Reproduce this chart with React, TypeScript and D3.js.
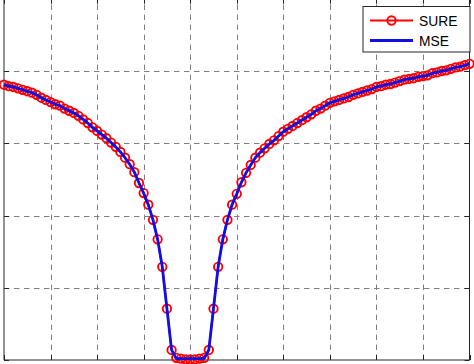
import React from "react";
import * as d3 from "d3";

const xValues: number[] = d3.range(0, 101).map((i) => i / 10);

const sureValues: number[] = [
  3.81, 3.79, 3.78, 3.76, 3.74, 3.72, 3.70, 3.67, 3.63, 3.60,
  3.57, 3.54, 3.52, 3.48, 3.45, 3.42, 3.38, 3.33, 3.28, 3.22,
  3.17, 3.12, 3.07, 3.01, 2.95, 2.88, 2.80, 2.71, 2.60, 2.45,
  2.31, 2.15, 1.94, 1.67, 1.29, 0.71, 0.14, 0.03, 0.02, 0.01,
  0.01, 0.01, 0.02, 0.03, 0.14, 0.71, 1.29, 1.67, 1.94, 2.15,
  2.30, 2.46, 2.59, 2.70, 2.80, 2.87, 2.93, 2.99, 3.04, 3.10,
  3.16, 3.20, 3.24, 3.28, 3.32, 3.36, 3.40, 3.45, 3.48, 3.52,
  3.56, 3.58, 3.60, 3.62, 3.64, 3.67, 3.69, 3.71, 3.73, 3.75,
  3.78, 3.79, 3.81, 3.82, 3.84, 3.86, 3.88, 3.89, 3.90, 3.92,
  3.93, 3.94, 3.97, 3.98, 4.00, 4.01, 4.03, 4.05, 4.06, 4.08,
  4.10,
];

const mseValues: number[] = [
  3.81, 3.79, 3.78, 3.76, 3.74, 3.72, 3.70, 3.67, 3.63, 3.60,
  3.57, 3.54, 3.52, 3.48, 3.45, 3.42, 3.38, 3.33, 3.28, 3.22,
  3.17, 3.12, 3.07, 3.01, 2.95, 2.88, 2.80, 2.71, 2.60, 2.45,
  2.31, 2.15, 1.94, 1.67, 1.29, 0.71, 0.14, 0.02, 0.02, 0.02,
  0.02, 0.02, 0.02, 0.02, 0.14, 0.71, 1.29, 1.67, 1.94, 2.15,
  2.30, 2.46, 2.59, 2.70, 2.80, 2.87, 2.93, 2.99, 3.04, 3.10,
  3.16, 3.20, 3.24, 3.28, 3.32, 3.36, 3.40, 3.45, 3.48, 3.52,
  3.56, 3.58, 3.60, 3.62, 3.64, 3.67, 3.69, 3.71, 3.73, 3.75,
  3.78, 3.79, 3.81, 3.82, 3.84, 3.86, 3.88, 3.89, 3.90, 3.92,
  3.93, 3.94, 3.97, 3.98, 4.00, 4.01, 4.03, 4.05, 4.06, 4.08,
  4.10,
];

const xTicks: number[] = [0, 1, 2, 3, 4, 5, 6, 7, 8, 9, 10];
const yTicks: number[] = [0, 1, 2, 3, 4, 5];
const seriesNames: string[] = ["SURE", "MSE"];

const W = 474;
const H = 364;
const RED = "#ff0000";
const BLUE = "#1010e6";

export default function App() {
  const x = d3.scaleLinear().domain([0, 10]).range([4, 469.5]);
  const y = d3.scaleLinear().domain([0, 5]).range([360, -1.25]);
  const line = d3
    .line<number>()
    .x((_, i) => x(xValues[i]))
    .y((d) => y(d));

  const x0 = x(0), x1 = x(10), y0 = y(0), y1 = y(5);

  return (
    <div style={{ position: "fixed", left: 0, top: 0, width: W, height: H, background: "#fff" }}>
      <svg width={W} height={H} style={{ display: "block" }}>
        <rect x={0} y={0} width={W} height={H} fill="#fff" />
        {/* grid */}
        <g stroke="#808080" strokeWidth={1} strokeDasharray="5.5,4.5" fill="none">
          {xTicks.slice(1, -1).map((t) => (
            <line key={"gx" + t} x1={Math.round(x(t)) + 0.5} x2={Math.round(x(t)) + 0.5} y1={y0} y2={y1} />
          ))}
          {yTicks.slice(1, -1).map((t) => (
            <line key={"gy" + t} x1={x0} x2={x1} y1={Math.round(y(t)) + 0.5} y2={Math.round(y(t)) + 0.5} />
          ))}
        </g>
        {/* ticks */}
        <g stroke="#262626" strokeWidth={1}>
          {xTicks.map((t) => (
            <g key={"tx" + t}>
              <line x1={Math.round(x(t)) + 0.5} x2={Math.round(x(t)) + 0.5} y1={y0} y2={y0 - 5} />
              <line x1={Math.round(x(t)) + 0.5} x2={Math.round(x(t)) + 0.5} y1={y1} y2={y1 + 5} />
            </g>
          ))}
          {yTicks.map((t) => (
            <g key={"ty" + t}>
              <line x1={x0} x2={x0 + 5} y1={Math.round(y(t)) + 0.5} y2={Math.round(y(t)) + 0.5} />
              <line x1={x1} x2={x1 - 5} y1={Math.round(y(t)) + 0.5} y2={Math.round(y(t)) + 0.5} />
            </g>
          ))}
        </g>
        {/* axes box */}
        <g stroke="#262626" strokeWidth={1} fill="none">
          <line x1={x0} x2={x1} y1={y0} y2={y0} />
          <line x1={x0} x2={x0} y1={y0} y2={y1} />
          <line x1={x1} x2={x1} y1={y0} y2={y1} />
        </g>
        {/* SURE */}
        <path d={line(sureValues) || ""} fill="none" stroke={RED} strokeWidth={2} />
        <g fill="none" stroke={RED} strokeWidth={1.9}>
          {sureValues.map((v, i) => (
            <circle key={"c" + i} cx={x(xValues[i])} cy={y(v)} r={4.2} />
          ))}
        </g>
        {/* MSE */}
        <path d={line(mseValues) || ""} fill="none" stroke={BLUE} strokeWidth={2.8} strokeLinejoin="round" />
        {/* legend */}
        <g>
          <rect x={363} y={6.5} width={107} height={45.5} fill="#fff" stroke="#262626" strokeWidth={1} />
          <line x1={370} x2={413} y1={20.5} y2={20.5} stroke={RED} strokeWidth={2} />
          <circle cx={391.5} cy={20.5} r={4.2} fill="none" stroke={RED} strokeWidth={1.9} />
          <line x1={370} x2={413} y1={40.5} y2={40.5} stroke={BLUE} strokeWidth={2.8} />
          <text x={419} y={25.5} fontFamily="'Liberation Sans', Arial, sans-serif" fontSize={13.8} fill="#000">
            {seriesNames[0]}
          </text>
          <text x={419} y={45.5} fontFamily="'Liberation Sans', Arial, sans-serif" fontSize={13.8} fill="#000">
            {seriesNames[1]}
          </text>
        </g>
      </svg>
    </div>
  );
}
